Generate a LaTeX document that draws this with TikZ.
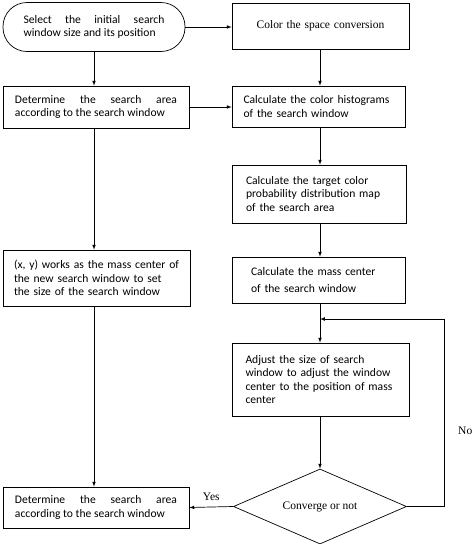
\documentclass[tikz,border=0pt]{standalone}
\usepackage{fontspec}
\setmainfont{Carlito}
\newfontfamily\timesrm{Liberation Serif}
\usepackage{tikz}
\usetikzlibrary{shapes.geometric}

\tikzset{
	stepbox/.style={draw=black, line width=0.7pt, rectangle, inner ysep=0pt, inner xsep=4pt, font=\fontsize{11.6}{13.6}\selectfont},
	startbox/.style={stepbox, rounded corners=24pt},
	decbox/.style={draw=black, line width=0.7pt, diamond, aspect=2.3, inner sep=0pt, font=\timesrm\fontsize{11.5}{13}\selectfont},
	flow/.style={draw=black, line width=0.7pt, -latex},
	lbl/.style={font=\timesrm\fontsize{11.5}{13}\selectfont, inner sep=0pt}
}

\begin{document}
\begin{tikzpicture}[x=1pt, y=-1pt]
	\useasboundingbox (0,0) rectangle (474,544);
	% left column
	\node[startbox, minimum width=182pt, minimum height=49pt, text width=141pt, align=justify] (start) at (94,27) {Select the initial search\linebreak window size and its position};
	\node[stepbox, minimum width=186pt, minimum height=42pt, text width=162pt, align=justify] (area) at (96,107) {Determine the search area\linebreak according to the search window};
	\node[stepbox, minimum width=187pt, minimum height=56pt, text width=165pt, align=left] (newwin) at (96.5,278) {(x, y) works as the mass center of\\ the new search window to set\\ the size of the search window};
	\node[stepbox, minimum width=186pt, minimum height=41pt, text width=162pt, align=justify] (area2) at (96,507.5) {Determine the search area\linebreak according to the search window};
	% right column
	\node[stepbox, minimum width=177pt, minimum height=46pt, text width=160pt, align=center, font=\timesrm\fontsize{11.5}{13}\selectfont] (conv) at (320.5,26) {Color the space conversion};
	\node[stepbox, minimum width=173pt, minimum height=41pt, text width=150pt, align=left] (hist) at (318.5,106.5) {Calculate the color histograms\\ of the search window};
	\node[stepbox, minimum width=174pt, minimum height=58pt, text width=146pt, align=left] (prob) at (319,194) {Calculate the target color\\ probability distribution map\\ of the search area};
	\node[stepbox, minimum width=173pt, minimum height=46pt, text width=135pt, align=left, font=\fontsize{11.6}{17}\selectfont] (mass) at (318.5,280) {Calculate the mass center\\ of the search window};
	\node[stepbox, minimum width=177pt, minimum height=73pt, text width=150pt, align=left] (adjust) at (320.5,379.5) {Adjust the size of search\\ window to adjust the window\\ center to the position of mass\\ center};
	\node[decbox, minimum width=173pt, minimum height=75pt] (conv2) at (320,506.5) {Converge or not};
	\coordinate (loop) at (444,319);
	% connectors
	\draw[flow] (start.east) -- (conv.west |- start.east);
	\draw[flow] (start.south) -- (start.south |- area.north);
	\draw[flow] (area.east) -- (hist.west |- area.east);
	\draw[flow] (start.south |- area.south) -- (start.south |- newwin.north);
	\draw[flow] (start.south |- newwin.south) -- (start.south |- area2.north);
	\draw[flow] (conv2.north |- conv.south) -- (conv2.north |- hist.north);
	\draw[flow] (conv2.north |- hist.south) -- (conv2.north |- prob.north);
	\draw[flow] (conv2.north |- prob.south) -- (conv2.north |- mass.north);
	\draw[flow] (conv2.north |- mass.south) -- (conv2.north |- adjust.north);
	\draw[flow] (conv2.north |- adjust.south) -- (conv2.north);
	\draw[flow] (conv2.east) -| (loop) -- (conv2.north |- loop);
	\draw[flow] (conv2.west) -- (area2.east) node[lbl, midway, above=6pt] (yes) {Yes};
	\node[lbl, anchor=west] (no) at (458,431) {No};
\end{tikzpicture}
\end{document}
